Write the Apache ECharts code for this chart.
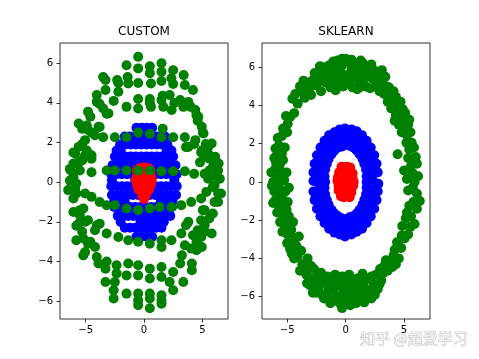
<!DOCTYPE html>
<html><head><meta charset="utf-8">
<script src="https://cdn.jsdelivr.net/npm/echarts@6/dist/echarts.min.js"></script>
<style>html,body{margin:0;padding:0;background:#fff}#c{width:479px;height:359px}</style>
</head><body><div id="c"></div>
<script>
const titles = ['CUSTOM', 'SKLEARN'];
const xTicks = [-5, 0, 5];
const yTicks = [-6, -4, -2, 0, 2, 4, 6];
const watermark = '知乎 @超爱学习';

const customRed = [[0,0.75],[-0.4,0.7],[0.4,0.7],[-0.62,0.6],[0.55,0.6],[-0.6,0.3],[-0.2,0.3],[0.2,0.3],[0.6,0.3],[-0.7,0.1],[0.65,0.1],[-0.6,-0.1],[-0.2,-0.1],[0.2,-0.1],[0.6,-0.1],[-0.5,-0.35],[0.45,-0.35],[-0.4,-0.4],[0,-0.4],[0.4,-0.4],[-0.15,-0.7],[0.15,-0.7],[0,-0.85]];

const customBlue = [
[-0.65,2.75],[-0.2,2.75],[0.25,2.75],[0.7,2.75],
[-1.65,2.3],[-1.2,2.3],[-0.75,2.3],[-0.3,2.3],[0.15,2.3],[0.6,2.3],[1.05,2.3],[1.5,2.3],[1.8,2.3],
[-2.05,1.9],[-1.6,1.9],[-1.15,1.9],[-0.7,1.9],[-0.25,1.9],[0.2,1.9],[0.65,1.9],[1.1,1.9],[1.55,1.9],[2.0,1.9],
[-2.35,1.6],[-2.0,1.6],[1.95,1.6],[2.35,1.6],
[-2.5,1.3],[-2.05,1.3],[-1.6,1.3],[-1.15,1.3],[-0.7,1.3],[-0.25,1.3],[0.2,1.3],[0.65,1.3],[1.1,1.3],[1.55,1.3],[2.0,1.3],[2.5,1.3],
[-2.7,0.85],[-2.25,0.85],[-1.8,0.85],[-1.35,0.85],[-0.9,0.85],[-0.45,0.85],[0,0.85],[0.45,0.85],[0.9,0.85],[1.35,0.85],[1.8,0.85],[2.25,0.85],[2.7,0.85],
[-2.8,0.4],[-2.35,0.4],[-1.9,0.4],[-1.45,0.4],[-1.0,0.4],[1.0,0.4],[1.45,0.4],[1.9,0.4],[2.35,0.4],[2.8,0.4],
[-2.75,0.1],[-0.75,0.1],[2.6,0.1],
[-2.8,-0.2],[-2.35,-0.2],[-1.9,-0.2],[-1.45,-0.2],[-1.0,-0.2],[1.0,-0.2],[1.45,-0.2],[1.9,-0.2],[2.35,-0.2],[2.8,-0.2],
[-2.75,-0.65],[-2.3,-0.65],[-1.85,-0.65],[-1.4,-0.65],[-0.95,-0.65],[-0.5,-0.65],[0.5,-0.65],[0.95,-0.65],[1.4,-0.65],[1.85,-0.65],[2.3,-0.65],[2.75,-0.65],
[-2.55,-0.95],[-2.1,-0.95],[-1.65,-0.95],[1.45,-0.95],[1.95,-0.95],[2.45,-0.95],
[-2.55,-1.25],[-2.1,-1.25],[-1.65,-1.25],[-1.2,-1.25],[-0.75,-1.25],[-0.3,-1.25],[0.15,-1.25],[0.6,-1.25],[1.05,-1.25],[1.5,-1.25],[1.95,-1.25],[2.4,-1.25],
[-2.25,-1.7],[-1.8,-1.7],[-1.35,-1.7],[-0.9,-1.7],[-0.45,-1.7],[0,-1.7],[0.45,-1.7],[0.9,-1.7],[1.35,-1.7],[1.8,-1.7],[2.25,-1.7],
[-2.0,-2.0],[-0.3,-2.0],[0.2,-2.0],[0.7,-2.0],[1.2,-2.0],[1.7,-2.0],
[-1.65,-2.3],[-1.2,-2.3],[-0.75,-2.3],[-0.3,-2.3],[0.15,-2.3],[0.6,-2.3],[1.05,-2.3],[1.5,-2.3],
[-0.65,-2.75],[-0.2,-2.75],[0.25,-2.75],[0.7,-2.75]
];

const customGreen = [
[-0.5,6.33],[-1.5,5.9],[-0.5,5.74],[0.5,5.85],[1.5,6.0],[0.5,5.5],[1.5,5.57],[2.5,5.65],
[-3.5,5.3],[-3.3,5.15],[-2.3,5.15],[-2.2,5.0],[-1.4,5.3],[-1.35,4.98],[-0.5,5.0],[0.6,4.98],
[1.5,5.1],[2.35,5.24],[3.4,5.4],[3.5,4.9],[4.2,4.65],[-3.3,4.65],[-2.2,4.56],[-4.05,4.4],
[-0.5,4.2],[0.5,4.2],[1.5,4.14],[2.2,4.4],[3.1,4.14],[3.8,4.05],[-1.5,3.8],[-0.5,3.72],
[0.6,3.8],[1.65,3.8],[2.37,3.64],[3.37,3.8],[4.4,3.64],[4.65,3.3],[-4.8,3.55],[-4.6,3.3],
[-3.5,3.72],[-4.05,4.05],[-3.05,3.47],[1.6,4.36],[0.5,4.0],[2.6,4.0],[2.5,4.95],[-2.6,4.1],
[-3.8,3.94],[4.0,3.8],
[-5.6,2.96],[-5.3,2.7],[-4.8,2.63],[-5.05,2.12],[-4.2,2.37],[-3.9,2.8],[-4.9,2.86],[-3.8,2.78],[-3.2,3.45],[-4.5,2.5],
[4.95,2.8],[5.1,2.46],[5.5,1.78],[5.8,1.95],[6.1,1.28],[6.4,0.94],[5.9,0.77],[5.2,1.28],[4.95,1.6],[4.4,2.12],[3.8,1.78],[4.5,3.37],[4.6,3.1],[5.05,2.5],[5.3,1.93],[4.9,1.5],[5.5,1.43],[5.6,1.18],[6.05,0.93],[4.8,1.0],[4.3,1.93],[3.6,1.77],
[-5.9,1.45],[-6.05,0.94],[-6.3,0.6],[-5.3,1.1],[-4.9,1.6],[-4.5,1.36],[-5.6,1.78],[-5.3,1.93],[-6.05,1.5],[-5.05,1.36],[-4.5,1.18],[-5.6,1.0],[-6.35,0.67],[-5.5,0.59],
[-3.5,2.27],[-2.5,2.27],[-1.5,2.27],[-0.5,2.5],[0.5,2.44],[1.5,2.27],[2.5,2.27],[1.6,2.7],[3.5,2.27],
[-4.5,0.5],[-3.2,0.59],[-2.5,0.59],[-1.5,0.59],[-0.5,0.59],[0.5,0.59],[1.5,0.55],[2.5,0.55],[3.5,0.55],[4.3,0.42],
[-3.8,-1.0],[-3.2,-1.16],[-2.5,-1.16],[-1.5,-1.33],[-0.5,-1.41],[0.5,-1.33],[1.35,-1.25],[2.35,-1.25],[3.2,-1.16],[4.05,-1.0],
[-2.2,-2.76],[-1.35,-2.93],[-0.5,-3.0],[0.5,-3.1],[1.5,-2.93],[2.35,-2.93],[3.5,-3.18],[4.05,-3.35],[1.5,-3.27],
[-6.05,0.25],[-6.35,0.08],[-5.8,-0.07],[-6.5,-0.4],[-5.8,-0.57],[-6.05,-0.82],[-5.05,-0.57],[-4.5,-0.74],[-5.9,-0.32],
[6.35,0.59],[5.6,0.59],[6.05,0.34],[6.5,0.17],[5.5,0.17],[5.2,0.42],[5.9,-0.24],[6.35,-0.57],[6.05,-1.0],[5.35,-0.49],[4.9,-0.82],[6.05,-0.15],[6.6,-0.57],
[-6.05,-1.5],[-5.5,-1.67],[-5.2,-1.33],[-4.8,-1.92],[-5.6,-2.09],[-5.3,-2.5],[-4.05,-2.17],[-4.2,-2.42],[-3.8,-2.09],[-3.2,-2.59],[-5.2,-2.84],[-4.6,-3.0],[-5.05,-2.0],[-5.8,-2.2],[-5.5,-1.41],
[-5.8,-2.93],[-4.8,-3.1],[-4.2,-3.27],[-5.2,-3.69],[-5.05,-3.52],[-4.05,-3.77],[-3.9,-4.1],[-3.3,-4.36],[-3.2,-4.0],[-2.35,-4.19],[-2.35,-4.6],[-1.35,-4.1],[-0.5,-4.19],[0.5,-4.36],[1.5,-4.28],[2.5,-4.53],[3.1,-4.1],[3.25,-3.69],[4.1,-4.1],[4.1,-4.44],[4.5,-3.43],[4.95,-3.27],
[-3.3,-5.03],[-2.5,-5.03],[-1.5,-4.7],[-0.5,-4.7],[0.5,-4.86],[1.5,-4.78],[2.2,-5.03],[3.37,-5.03],[-2.6,-5.45],[-1.5,-5.62],[-0.5,-5.62],[0.5,-5.62],[1.5,-5.7],[2.5,-5.45],[-2.6,-5.87],[-0.5,-5.96],[-0.5,-6.2],[0.5,-6.36],[1.5,-6.13],[0.5,-5.87],[1.5,-5.96],
[5.05,-1.41],[5.6,-1.83],[4.9,-1.92],[5.2,-2.17],[4.6,-2.42],[5.2,-2.5],[3.6,-2.17],[3.2,-2.59],[4.2,-2.68],[4.9,-2.76],[4.5,-3.0],[3.8,-2.0],[4.95,-2.42],[5.8,-2.59],[5.9,-1.58],[5.2,-1.41],[6.35,-1.0]
];

const sklearnRed = [[0,0],[0.3,0.1],[-0.3,-0.1],[0.1,0.35],[-0.1,-0.35],[0.5,0.3],[-0.5,0.3],[0.5,-0.3],[-0.5,-0.3],[0.0,0.7],[0.0,-0.75],[0.3,0.6],[-0.3,0.6],[0.3,-0.6],[-0.3,-0.6],[0.7,0.0],[-0.7,0.05],[0.6,0.45],[-0.6,-0.45],[0.2,-0.2],[-0.2,0.2],[0.1,0.8],[-0.15,-0.8],[0.45,0.0],[-0.4,0.0],[0.2,0.5],[-0.2,-0.5],
[0.65,-0.2],[-0.65,0.25],[0.6,0.2],[-0.6,-0.2],[-0.55,0.5],[0.5,-0.55],[0.4,0.75],[-0.4,-0.75],[-0.35,0.8],[0.35,-0.8]];

const sklearnBlue = [
[1.8,0.0],[2.3,0.1],[2.8,-0.1],[1.8,0.3],[2.3,0.45],[2.75,0.5],[1.75,0.65],[2.2,0.8],[2.65,0.95],
[1.6,0.95],[2.05,1.15],[2.45,1.4],[1.45,1.2],[1.8,1.5],[2.15,1.8],[1.2,1.45],[1.5,1.8],[1.8,2.15],
[0.95,1.65],[1.2,2.05],[1.4,2.45],[0.65,1.8],[0.8,2.2],[0.95,2.65],[0.35,1.9],[0.4,2.3],[0.5,2.75],
[0.0,1.95],[0.05,2.35],[-0.05,2.8],[-0.35,1.85],[-0.4,2.35],[-0.5,2.75],[-0.65,1.8],[-0.8,2.2],[-0.95,2.6],
[-0.95,1.65],[-1.2,2.05],[-1.4,2.45],[-1.2,1.45],[-1.5,1.8],[-1.8,2.15],[-1.45,1.2],[-1.8,1.5],[-2.15,1.8],
[-1.6,0.95],[-2.05,1.15],[-2.45,1.4],[-1.75,0.65],[-2.2,0.8],[-2.65,0.95],[-1.8,0.3],[-2.3,0.4],[-2.75,0.5],
[-1.75,0.0],[-2.3,-0.05],[-2.75,0.05],[-1.8,-0.3],[-2.3,-0.4],[-2.75,-0.5],[-1.75,-0.65],[-2.2,-0.8],[-2.65,-0.95],
[-1.6,-0.95],[-2.05,-1.15],[-2.45,-1.4],[-1.45,-1.2],[-1.8,-1.5],[-2.15,-1.8],[-1.2,-1.45],[-1.5,-1.8],[-1.8,-2.15],
[-0.95,-1.65],[-1.2,-2.05],[-1.4,-2.45],[-0.65,-1.8],[-0.8,-2.2],[-0.95,-2.65],[-0.35,-1.9],[-0.4,-2.3],[-0.5,-2.75],
[0.0,-1.95],[0.05,-2.35],[-0.05,-2.85],[0.35,-1.85],[0.4,-2.35],[0.5,-2.75],[0.65,-1.8],[0.8,-2.2],[0.95,-2.6],
[0.95,-1.65],[1.2,-2.05],[1.4,-2.45],[1.2,-1.45],[1.5,-1.8],[1.8,-2.15],[1.45,-1.2],[1.8,-1.5],[2.15,-1.8],
[1.6,-0.95],[2.05,-1.15],[2.45,-1.4],[1.75,-0.65],[2.2,-0.8],[2.65,-0.95],[1.8,-0.3],[2.3,-0.4],[2.75,-0.5],
[0.2,2.55],[-0.7,2.45],[1.1,2.3],[-1.6,1.65],[2.5,0.7],[-2.55,-0.7],[0.6,-2.5],[-0.2,-2.55],[1.6,-1.95],[-1.1,-2.3]
];

const sklearnGreen = [
[0.2,6.3],[0.5,5.9],[-0.1,5.6],[0.3,5.15],[0.8,6.2],[0.9,5.45],[0.6,4.95],[-0.3,6.1],[-0.6,5.3],[-0.5,5.8],[-0.7,6.35],[-0.2,5.0],
[1.1,6.0],[1.2,5.2],[1.4,5.75],[1.0,4.85],[1.5,6.2],[1.7,5.0],[1.8,5.5],[2.0,5.95],[2.1,4.9],[2.3,5.4],[2.4,5.85],[2.6,5.0],
[2.7,5.45],[2.9,4.75],[3.0,5.6],[3.2,5.1],[3.3,4.6],[3.5,5.0],[3.4,5.5],[3.8,4.6],[3.6,4.2],
[4.0,4.3],[4.1,4.75],[3.9,3.85],[4.4,4.1],[4.3,3.5],[4.6,3.7],[4.7,4.2],[4.9,3.3],[4.2,3.2],
[5.1,3.6],[5.0,2.85],[5.35,3.0],[4.8,2.6],[5.25,2.45],[5.55,2.6],[5.2,2.05],[5.65,2.05],
[5.45,1.7],[5.85,1.8],[6.0,1.3],[5.35,1.25],[4.45,1.45],[6.1,0.95],[5.6,0.85],[5.75,0.45],[6.2,0.3],[5.0,0.6],[5.25,0.15],[5.9,0.0],
[5.75,-0.3],[6.1,-0.6],[5.35,-0.45],[5.8,-1.05],[5.45,-1.25],[6.1,-1.4],[5.6,-1.8],[5.15,-1.9],[5.9,-2.2],[4.85,-2.3],[5.35,-2.75],[5.05,-2.95],[4.4,-3.15],[4.75,-3.45],[4.2,-3.55],[4.1,-3.85],[4.55,-4.0],[3.8,-4.2],
[3.45,-4.1],[3.6,-4.65],[3.25,-4.75],[4.0,-4.45],[2.95,-4.55],[3.05,-5.15],[2.6,-4.85],[2.75,-5.6],[2.2,-4.95],[2.4,-5.35],[2.0,-5.7],[2.5,-5.9],[1.6,-5.2],[1.8,-6.0],[1.45,-4.8],[1.35,-5.7],[1.7,-5.6],[1.0,-5.05],[1.05,-6.1],[0.75,-5.45],[1.15,-5.75],[0.6,-5.9],[0.3,-4.85],[0.2,-6.2],[0.4,-5.5],[0.1,-5.15],[-0.1,-5.8],[0.0,-6.3],
[-0.3,-4.95],[-0.4,-6.0],[-0.6,-5.35],[-0.5,-6.35],[-0.2,-5.6],[-0.9,-4.85],[-1.0,-5.7],[-1.1,-6.2],[-0.8,-5.25],[-1.3,-5.45],[-1.55,-4.95],[-1.65,-5.9],[-1.45,-5.55],[-1.95,-5.25],[-1.85,-6.1],[-2.1,-4.75],[-2.3,-5.6],[-2.2,-5.15],[-2.6,-5.35],[-2.5,-5.8],[-2.7,-4.55],[-2.9,-5.05],[-3.05,-5.4],[-2.95,-4.4],
[-3.25,-4.0],[-3.45,-4.55],[-3.7,-4.3],[-3.35,-4.85],[-3.9,-4.65],[-3.8,-3.6],[-4.1,-3.9],[-4.4,-4.0],[-4.2,-3.35],[-4.3,-2.95],[-4.55,-3.25],[-4.75,-3.5],[-4.0,-2.85],[-4.65,-2.5],[-4.95,-2.75],[-5.15,-2.3],[-4.5,-2.1],[-4.85,-1.8],[-5.2,-1.9],[-5.5,-1.6],[-5.05,-1.45],[-4.95,-1.05],[-5.35,-1.15],[-5.7,-1.25],[-5.45,-0.75],[-6.0,-0.95],[-5.15,-0.5],[-5.6,-0.4],[-6.1,-0.5],[-4.85,-0.3],
[-5.25,0.1],[-5.8,0.2],[-6.2,0.0],[-5.5,0.55],[-6.0,0.7],[-5.05,0.5],[-5.35,1.15],[-5.9,1.4],[-5.6,0.95],[-6.1,1.25],[-5.2,1.8],[-5.7,1.9],[-5.45,2.4],[-5.35,2.8],[-4.95,3.05],[-4.4,3.6],[-4.1,4.1],[-4.55,4.35],[-3.8,4.75],[-3.5,4.4],
[-3.15,4.85],[-2.85,5.3],[-3.35,5.15],[-2.95,4.55],[-2.5,5.05],[-2.3,5.6],[-2.1,4.75],[-2.65,5.7],[-1.7,5.2],[-1.5,5.8],[-1.9,6.0],[-1.3,4.95],[-1.8,5.5],[-0.95,5.1],[-1.15,5.7],[-0.8,6.1],[-0.85,4.8],[-1.05,6.3],
[0.0,6.45],[0.4,5.5],[-0.4,5.45],[0.7,5.75],[1.3,6.35],[1.6,5.45],[-0.3,6.45],[-1.3,5.3],[-1.4,6.1],[-2.0,5.3],[-2.2,6.05],[-2.6,5.4],[2.2,6.15],[2.5,5.55],[2.8,5.2],[3.1,5.85],[-3.0,5.05],[-0.9,5.65],[1.2,4.95],[-0.1,5.3],[0.9,5.95],[0.5,6.4],
[3.7,4.95],[4.3,4.45],[4.9,3.8],[5.45,3.25],[4.55,3.0],
[0.0,-5.5],[-0.3,-6.6],[0.4,-6.45],[0.9,-6.35],[-0.8,-6.0],[-1.3,-6.35],[-1.7,-5.3],[-2.0,-5.9],[-2.8,-5.8],[1.2,-5.4],[1.6,-6.3],[2.2,-6.1],[2.9,-5.35],[-0.55,-5.05],[0.55,-5.15],[-1.25,-5.0],[-2.45,-5.0],[2.3,-5.6],[-3.3,-5.3],
[-4.6,-3.75],[-5.0,-3.2],[-5.4,-2.6],[-5.6,-2.1],[-5.85,-1.6],[-6.2,-1.1],[-6.3,-0.2],[-5.6,0.0],[-6.35,0.5],[-5.95,1.0],[-5.45,1.5],[-6.0,1.75],[-5.8,2.3],[-5.0,2.6],[-4.75,3.4],[-5.1,3.45],[-3.9,5.0],[-4.3,4.6],[-3.35,4.6],[-3.6,5.3],
[6.35,-1.0],[5.25,-1.6],[5.55,-2.35],[4.8,-2.8],[4.3,-4.3],[3.3,-4.4]
];

const FONT = 'DejaVu Sans';
const fmt = v => (v < 0 ? '\u2212' + (-v) : String(v));
const grids = [
  {left: 60, top: 43, width: 168, height: 276},
  {left: 262, top: 43, width: 168, height: 276}
];
const xRanges = [[-7.2, 7.2], [-7.15, 7.22]];
const yRanges = [[-6.9, 7.02], [-7.17, 7.27]];

function tickCfg(vals) {
  return {show: true, inside: false, length: 3.5, customValues: vals, lineStyle: {color: '#000', width: 0.8}};
}
function labelCfg(vals, margin) {
  return {show: true, customValues: vals, color: '#000', fontSize: 10, fontFamily: FONT, margin: margin, formatter: fmt};
}

const option = {
  animation: false,
  backgroundColor: '#fff',
  grid: grids.map(g => Object.assign({show: true, borderColor: '#000', borderWidth: 0.8, backgroundColor: 'transparent'}, g)),
  xAxis: [0, 1].map(i => ({
    gridIndex: i, type: 'value', min: xRanges[i][0], max: xRanges[i][1], position: 'bottom',
    axisLine: {show: false, onZero: false}, splitLine: {show: false},
    axisTick: tickCfg(xTicks), axisLabel: labelCfg(xTicks, 6)
  })),
  yAxis: [0, 1].map(i => ({
    gridIndex: i, type: 'value', min: yRanges[i][0], max: yRanges[i][1], position: 'left',
    axisLine: {show: false, onZero: false}, splitLine: {show: false},
    axisTick: tickCfg(yTicks), axisLabel: labelCfg(yTicks, 7)
  })),
  series: [],
  graphic: [
    {type: 'text', x: 144, y: 32, style: {text: titles[0], font: '12px "DejaVu Sans"', fill: '#000', align: 'center', verticalAlign: 'middle'}},
    {type: 'text', x: 346, y: 32, style: {text: titles[1], font: '12px "DejaVu Sans"', fill: '#000', align: 'center', verticalAlign: 'middle'}},
    {type: 'text', x: 414, y: 338, z: 100, style: {text: watermark, font: '15px "Noto Sans CJK SC"', fill: 'rgba(245,245,245,0.9)', stroke: 'rgba(160,160,160,0.8)', lineWidth: 0.7, align: 'center', verticalAlign: 'middle'}}
  ]
};

const sets = [
  [customBlue, customRed, customGreen],
  [sklearnBlue, sklearnRed, sklearnGreen]
];
const colors = ['#0000ff', '#ff0000', '#008000'];
sets.forEach((group, gi) => {
  group.forEach((data, si) => {
    option.series.push({
      type: 'scatter', xAxisIndex: gi, yAxisIndex: gi, data: data,
      symbol: 'circle', symbolSize: 10,
      itemStyle: {color: colors[si], opacity: 1},
      emphasis: {disabled: true}, silent: true
    });
  });
});

const chart = echarts.init(document.getElementById('c'), null, {renderer: 'canvas'});
chart.setOption(option);
</script>
</body></html>
